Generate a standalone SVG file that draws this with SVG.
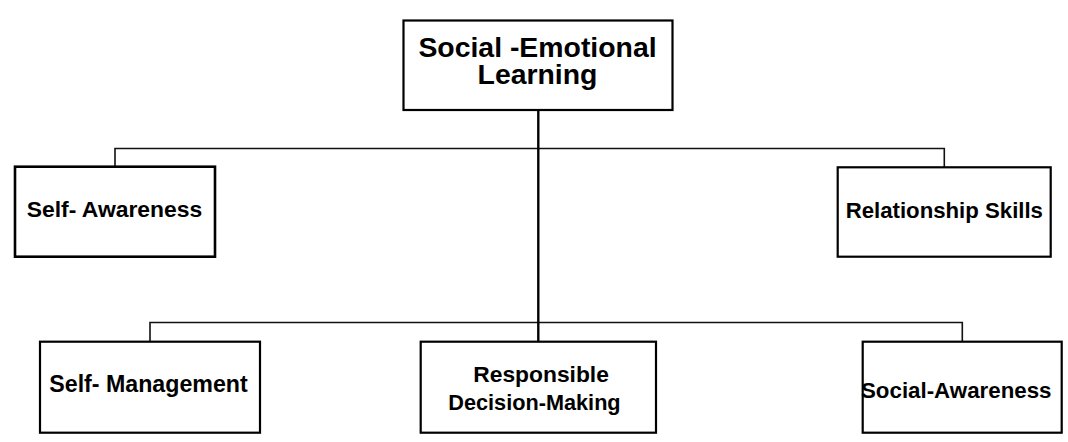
<svg xmlns="http://www.w3.org/2000/svg" width="1068" height="442" viewBox="0 0 1068 442">
<style>
.box{fill:#fff;stroke:#000;stroke-width:2.2}
.t{font-family:"Liberation Sans",Arial,sans-serif;font-weight:bold;fill:#000}
.c{fill:none;stroke:#111;stroke-width:1.6}
.main{fill:none;stroke:#000;stroke-width:2.4}
</style>
<rect width="1068" height="442" fill="#fff"/>
<g id="connectors">
<path class="c" d="M115,167 V148.5 H944.3 V167"/>
<path class="c" d="M150,342 V322.5 H962.3 V342"/>
<path class="main" d="M538.3,110 V347"/>
</g>
<g id="node-sel">
<rect class="box" x="403.5" y="20.5" width="269" height="89.5"/>
<text class="t" x="537.5" y="57" font-size="28.4" text-anchor="middle">Social -Emotional</text>
<text class="t" x="537.5" y="84" font-size="28.4" text-anchor="middle">Learning</text>
</g>
<g id="node-self-awareness">
<rect class="box" x="15" y="166.7" width="200" height="90" style="stroke-width:2.6"/>
<text class="t" x="26.7" y="216.7" font-size="22.9">Self- Awareness</text>
</g>
<g id="node-relationship-skills">
<rect class="box" x="837.7" y="167.3" width="213" height="89.4"/>
<text class="t" x="845.7" y="218.3" font-size="22.2">Relationship Skills</text>
</g>
<g id="node-self-management">
<rect class="box" x="40" y="341.7" width="220" height="91"/>
<text class="t" x="49.3" y="391.7" font-size="23.2">Self- Management</text>
</g>
<g id="node-responsible">
<rect class="box" x="420.7" y="341.7" width="235.3" height="91"/>
<text class="t" x="473.3" y="381.7" font-size="22.8">Responsible</text>
<text class="t" x="448.3" y="410" font-size="21.7">Decision-Making</text>
</g>
<g id="node-social-awareness">
<rect class="box" x="862.7" y="341.7" width="199" height="91"/>
<text class="t" x="861" y="397.7" font-size="22.3">Social-Awareness</text>
</g>
</svg>
